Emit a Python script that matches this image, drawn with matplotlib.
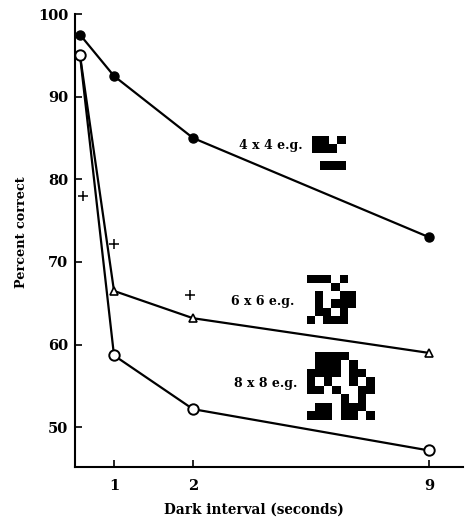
import numpy as np
import matplotlib
matplotlib.use("Agg")
import matplotlib.pyplot as plt

plt.rcParams['font.family'] = ['DejaVu Serif']

# dark interval (seconds) and percent correct
interval = [0, 1, 2, 9]
pct_4x4 = [97.5, 92.5, 85.0, 73.0]
pct_6x6 = [95.0, 66.5, 63.2, 59.0]
pct_8x8 = [95.0, 58.7, 52.2, 47.2]
plus_x = [0.1, 1.0, 1.96]
plus_y = [78.0, 72.2, 66.0]
xticks = [1, 2, 9]
yticks = [50, 60, 70, 80, 90, 100]

# example patterns (1 = black)
pat4 = [[1, 1, 0, 1],
        [1, 1, 1, 0],
        [0, 0, 0, 0],
        [0, 1, 1, 1]]
pat6 = [[1, 1, 1, 0, 1, 0],
        [0, 0, 0, 1, 0, 0],
        [0, 1, 0, 0, 1, 1],
        [0, 1, 0, 1, 1, 1],
        [0, 1, 1, 0, 1, 0],
        [1, 0, 1, 1, 1, 0]]
pat8 = [[0, 1, 1, 1, 1, 0, 0, 0],
        [0, 1, 1, 1, 0, 1, 0, 0],
        [1, 1, 1, 1, 0, 1, 1, 0],
        [1, 0, 1, 0, 0, 1, 0, 1],
        [1, 1, 0, 1, 0, 0, 1, 1],
        [0, 0, 0, 0, 1, 0, 1, 0],
        [0, 1, 1, 0, 1, 1, 1, 0],
        [1, 1, 1, 0, 1, 1, 0, 1]]

# the printed axis is stretched unevenly: seconds -> axis units
knot_s = [-1.0, 0.0, 1.0, 2.0, 9.0, 20.0]
knot_u = [-29.0, 5.0, 39.0, 118.0, 354.0, 725.0]


def fwd(x):
    return np.interp(x, knot_s, knot_u)


def inv(u):
    return np.interp(u, knot_u, knot_s)


fig = plt.figure(figsize=(4.74, 5.2), dpi=100)
ax = fig.add_axes([75 / 474, 1 - 467 / 520, 388 / 474, 453 / 520])
ax.set_xscale('function', functions=(fwd, inv))

lw = 1.6
ax.plot(interval, pct_4x4, '-o', color='black', lw=lw, ms=6.5, zorder=3)
ax.plot(interval, pct_6x6, '-^', color='black', lw=lw, ms=6, mfc='white', mew=1.2, zorder=3)
ax.plot(interval, pct_8x8, '-o', color='black', lw=lw, ms=7.5, mfc='white', mew=1.4, zorder=3)
ax.plot(plus_x, plus_y, '+', color='black', ms=7, mew=1.1, zorder=3)

ax.set_xlim(inv(0), inv(388))
ax.set_ylim(45.2, 100)
ax.set_xticks(xticks)
ax.set_xticklabels([str(t) for t in xticks], fontweight='bold')
ax.set_yticks(yticks)
ax.set_yticklabels([str(t) for t in yticks], fontweight='bold')
for s in ['top', 'right']:
    ax.spines[s].set_visible(False)
for s in ['left', 'bottom']:
    ax.spines[s].set_linewidth(1.5)
ax.tick_params(direction='in', length=5, width=1.2, labelsize=10.5, pad=5)
ax.tick_params(axis='x', pad=9)
ax.set_xlabel('Dark interval (seconds)', fontsize=9.8, fontweight='bold')
ax.xaxis.set_label_coords((254 - 75) / 388, -0.079)
ax.set_ylabel('Percent correct', fontsize=9.3, fontweight='bold')
ax.yaxis.set_label_coords(-0.121, 0.519)

# labels and example patterns
labels = [('4 x 4 e.g.', 303, 146, pat4, (312, 136, 34)),
          ('6 x 6 e.g.', 294, 302, pat6, (307, 275, 49)),
          ('8 x 8 e.g.', 297, 383, pat8, (307, 352, 68))]
for txt, tx, ty, pat, (px, py, size) in labels:
    fig.text(tx / 474, 1 - ty / 520, txt, ha='right', va='center', fontsize=9, fontweight='bold')
    pax = fig.add_axes([px / 474, 1 - (py + size) / 520, size / 474, size / 520])
    pax.imshow(np.array(pat), cmap='gray_r', vmin=0, vmax=1, interpolation='nearest', aspect='auto')
    pax.axis('off')

fig.savefig('out.png', dpi=100)
